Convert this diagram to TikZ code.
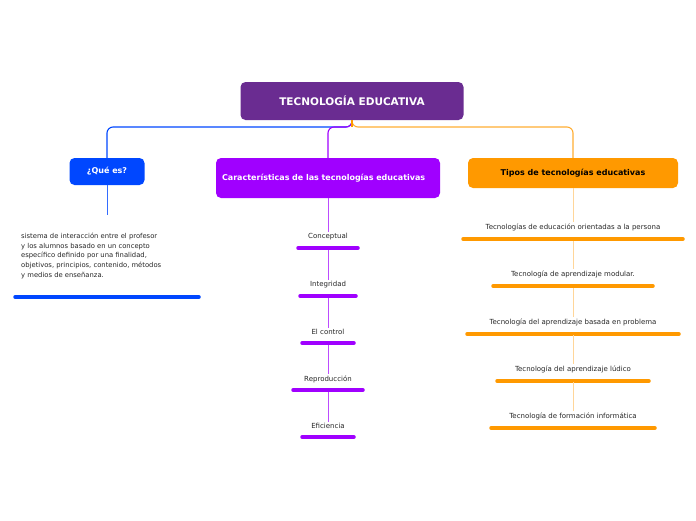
\documentclass[tikz,border=0pt]{standalone}
\usepackage{fontspec}
\setmainfont{DejaVu Sans}
\definecolor{cRoot}{HTML}{6A2C91}
\definecolor{cBlue}{HTML}{0047FF}
\definecolor{cPurp}{HTML}{A000FF}
\definecolor{cOrg}{HTML}{FF9900}
\begin{document}
\begin{tikzpicture}[x=1pt,y=-1pt,
 box/.style={rounded corners=5pt,inner sep=0pt},
 item/.style={font=\fontsize{7}{8}\selectfont,text=black!85,inner sep=1pt},
 bar/.style={line width=3.5pt,line cap=round},
 conn/.style={line width=1.1pt,rounded corners=6pt}]
\useasboundingbox (0,0) rectangle (696,520);
% root
\node[box,fill=cRoot,minimum width=223pt,minimum height=38pt,text=white,font=\bfseries\fontsize{10.5}{12}\selectfont] (root) at (352,101) {TECNOLOGÍA EDUCATIVA};
\node[box,fill=cBlue,minimum width=75pt,minimum height=27pt,text=white,font=\bfseries\fontsize{8}{10}\selectfont] (q) at (107,171.5) {¿Qué es?};
\node[box,fill=cPurp,minimum width=224pt,minimum height=40pt,text=white,font=\bfseries\fontsize{8}{10}\selectfont,align=left,text width=212pt] (c) at (328,178) {Características de las tecnologías educativas};
\node[box,fill=cOrg,minimum width=210pt,minimum height=30pt,text=black,font=\bfseries\fontsize{8}{10}\selectfont] (t) at (573,173) {Tipos de tecnologías educativas};
% connectors
\draw[conn,cBlue] (root.south) -- (352,127) -- (107,127) -- (q.north);
\draw[conn,cPurp] (root.south) -- (352,127) -- (328,127) -- (328,158);
\draw[conn,cOrg!80] (root.south) -- (352,127) -- (573,127) -- (t.north);
\draw[cOrg,line width=1.2pt] (root.south) -- (352,127);
% que es
\coordinate (qe) at (107,215);
\draw[cBlue!80,line width=0.7pt] (q.south) -- (qe);
\node[item,align=left,anchor=north west,font=\fontsize{6.8}{9.6}\selectfont] (qt) at (20,232) {sistema de interacción entre el profesor\\y los alumnos basado en un concepto\\específico definido por una finalidad,\\objetivos, principios, contenido, métodos\\y medios de enseñanza.};
\coordinate (qb1) at (15,297); \coordinate (qb2) at (199,297);
\draw[bar,cBlue] (qb1) -- (qb2);
% caracteristicas
\foreach \n/\y/\w/\txt in {c1/237/30/Conceptual,c2/285/28/Integridad,c3/332/26/El control,c4/379/35/Reproducción,c5/426/26/Eficiencia}{
 \node[item] (\n) at (328,\y) {\txt};
 \coordinate (\n a) at (328-\w,\y+11); \coordinate (\n b) at (328+\w,\y+11);
 \draw[bar,cPurp] (\n a) -- (\n b);
}
\draw[cPurp!70,line width=0.7pt] (c.south) -- (c1.north);
\draw[cPurp!70,line width=0.7pt] (328,250) -- (c2.north);
\draw[cPurp!70,line width=0.7pt] (328,298) -- (c3.north);
\draw[cPurp!70,line width=0.7pt] (328,345) -- (c4.north);
\draw[cPurp!70,line width=0.7pt] (328,392) -- (c5.north);
% tipos
\foreach \n/\y/\w/\txt in {t1/227/110/Tecnologías de educación orientadas a la persona,t2/274/80/Tecnología de aprendizaje modular.,t3/322/106/Tecnología del aprendizaje basada en problema,t4/369/76/Tecnología del aprendizaje lúdico,t5/416/82/Tecnología de formación informática}{
 \node[item] (\n) at (573,\y) {\txt};
 \coordinate (\n a) at (573-\w,\y+12); \coordinate (\n b) at (573+\w,\y+12);
 \draw[bar,cOrg] (\n a) -- (\n b);
}
\draw[cOrg!40,line width=0.8pt] (t.south) -- (t1.north);
\draw[cOrg!40,line width=0.8pt] (573,241) -- (t2.north);
\draw[cOrg!40,line width=0.8pt] (573,288) -- (t3.north);
\draw[cOrg!40,line width=0.8pt] (573,335) -- (t4.north);
\draw[cOrg!40,line width=0.8pt] (573,382) -- (t5.north);
\end{tikzpicture}
\end{document}
